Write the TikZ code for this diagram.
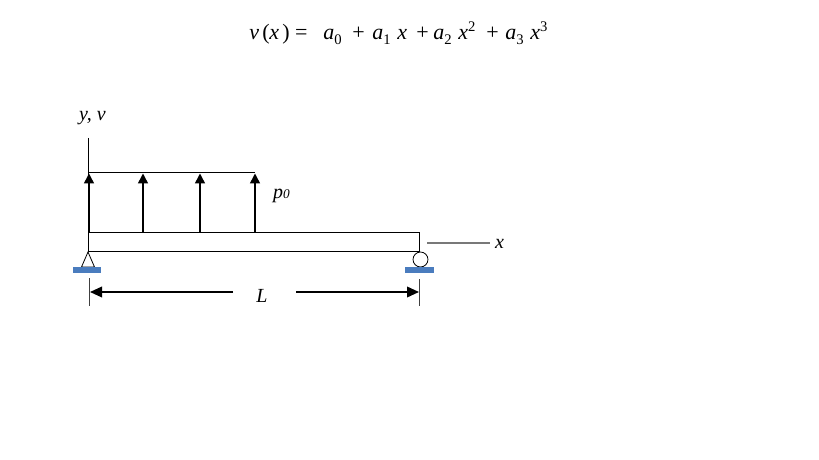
\documentclass[tikz,border=0pt]{standalone}
\usepackage{fontspec}
\setmainfont{Liberation Serif}
\usetikzlibrary{arrows.meta}
\definecolor{barblue}{RGB}{74,124,190}
\definecolor{lightline}{RGB}{120,120,120}
\newcommand{\eqsub}[1]{\raisebox{-0.4ex}{\fontsize{11}{11}\selectfont\upshape #1}}
\newcommand{\eqsup}[1]{\raisebox{0.85ex}{\fontsize{11}{11}\selectfont\upshape #1}}
\newcommand{\eqpart}[2]{\rlap{\hspace{#1\dimexpr0.75pt\relax}#2}}
\tikzset{
  px/.style={x=0.75pt,y=-0.75pt},
  ln/.style={draw=black,line width=0.75pt},
  loadarrow/.style={ln,line width=1.15pt,-{Triangle[length=7.5pt,width=7.5pt]}},
  dimarrow/.style={ln,line width=1.15pt,-{Triangle[length=9pt,width=8pt]}},
  tick/.style={draw=black!75,line width=0.7pt},
  grayline/.style={draw=lightline,line width=0.9pt},
  bar/.style={fill=barblue,draw=none},
  lbl/.style={inner sep=0pt,font=\itshape\fontsize{15}{15}\selectfont},
  eq/.style={inner sep=0pt,anchor=base west,font=\itshape\fontsize{16.5}{17}\selectfont},
}
\begin{document}
\begin{tikzpicture}[px]
\useasboundingbox[fill=white] (0,0) rectangle (819,460);
% equation
\node[eq] (eqn) at (249,40) {%
\eqpart{0}{v}%
\eqpart{13}{\upshape(}%
\eqpart{20}{x}%
\eqpart{33}{\upshape)}%
\eqpart{46}{\upshape=}%
\eqpart{74}{a\eqsub{0}}%
\eqpart{103}{\upshape+}%
\eqpart{123}{a\eqsub{1}}%
\eqpart{148}{x}%
\eqpart{167}{\upshape+}%
\eqpart{184}{a\eqsub{2}}%
\eqpart{209}{x\eqsup{2}}%
\eqpart{237}{\upshape+}%
\eqpart{256}{a\eqsub{3}}%
\eqpart{281}{x\eqsup{3}}%
\phantom{x}};
% coordinates
\coordinate (axisTop) at (88.5,138);
\coordinate (axisBot) at (88.5,252);
\coordinate (loadL) at (88.5,173);
\coordinate (loadR) at (255,173);
\foreach \n/\xx in {a/89,b/143,c/200,d/255}{
  \coordinate (\n0) at (\xx,233);
  \coordinate (\n1) at (\xx,173.5);
}
% beam
\coordinate (bTL) at (88.5,232.5);
\coordinate (bTR) at (419.5,232.5);
\coordinate (bBR) at (419.5,251.5);
\coordinate (bBL) at (88.5,251.5);
\draw[ln] (bTL) -- (bTR) -- (bBR) -- (bBL);
\draw[ln] (axisTop) -- (axisBot);
\draw[ln] (loadL) -- (loadR);
\foreach \n in {a,b,c,d}{ \draw[loadarrow] (\n0) -- (\n1); }
% supports
\coordinate (triA) at (88,252);
\coordinate (triB) at (81.5,267);
\coordinate (triC) at (94.5,267);
\draw[ln,line width=0.6pt] (triA) -- (triB) -- (triC) -- cycle;
\path[bar] (73,267.5) rectangle (101,273);
\node[circle,draw=black,line width=0.6pt,minimum size=11.2pt,inner sep=0pt] (roller) at (420.5,259.5) {};
\path[bar] (405,267) rectangle (433.5,273);
% dimension
\coordinate (t1a) at (89.5,278); \coordinate (t1b) at (89.5,306);
\coordinate (t2a) at (419.5,279); \coordinate (t2b) at (419.5,306);
\draw[tick] (t1a) -- (t1b);
\draw[tick] (t2a) -- (t2b);
\node[lbl] (L) at (262,296) {L};
\coordinate (d1s) at (233,292); \coordinate (d1e) at (90,292);
\coordinate (d2s) at (296,292); \coordinate (d2e) at (419,292);
\draw[dimarrow] (d1s) -- (d1e);
\draw[dimarrow] (d2s) -- (d2e);
% x axis
\coordinate (xs) at (427,243); \coordinate (xe) at (490,243);
\draw[grayline] (xs) -- (xe);
\node[lbl] (xl) at (499.5,244) {x};
\node[lbl] (yv) at (92.5,118) {y, v};
\node[lbl] (p0) at (281.5,196) {p\fontsize{10}{10}\selectfont 0};
\end{tikzpicture}
\end{document}
